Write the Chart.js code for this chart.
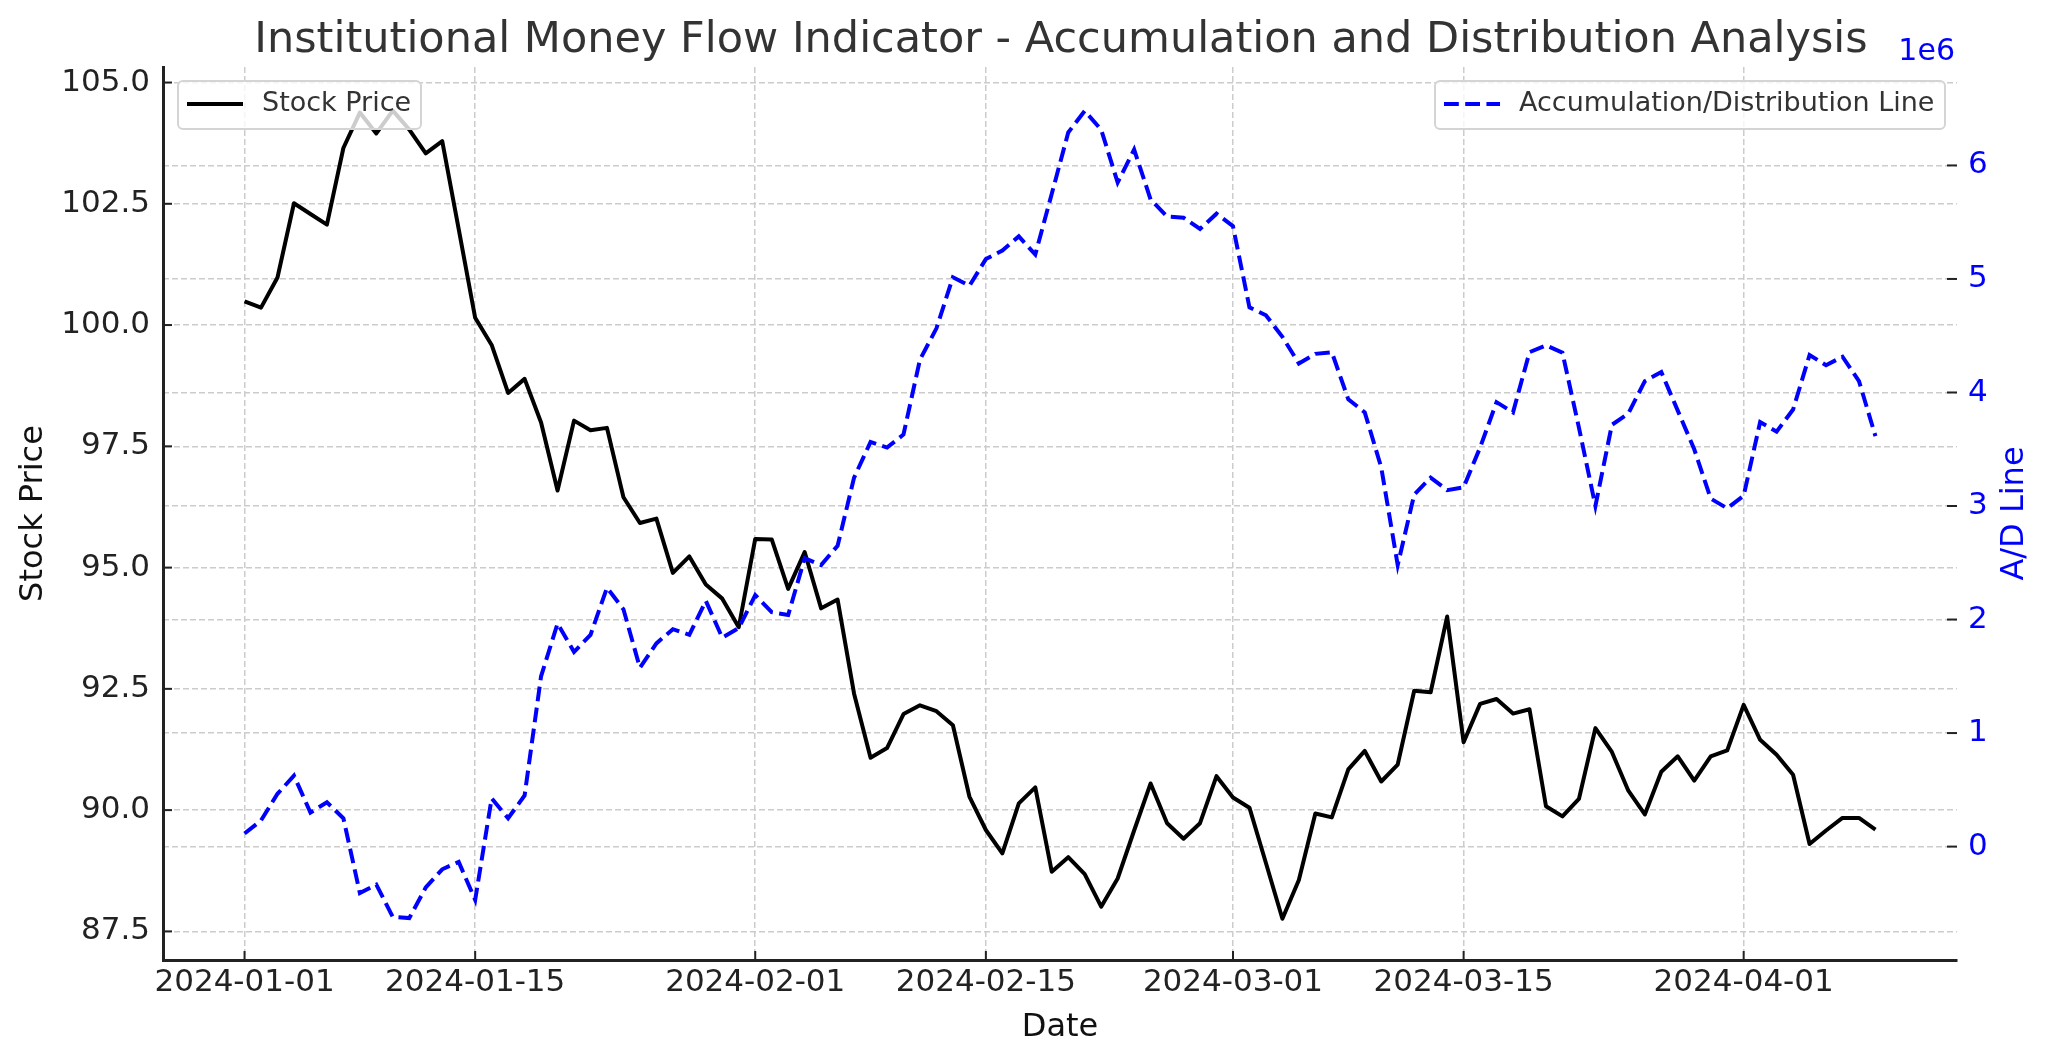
<!DOCTYPE html>
<html>
<head>
<meta charset="utf-8">
<script src="https://cdn.jsdelivr.net/npm/chart.js@4.4.1/dist/chart.umd.min.js"></script>
<style>
  html, body { margin: 0; padding: 0; background: #fff; }
  #wrap { width: 2048px; height: 1062px; }
</style>
</head>
<body>
<div id="wrap"><canvas id="chart" width="2048" height="1062"></canvas></div>
<script>
// daily series, day 0 = 2024-01-01
const startDate = "2024-01-01";
const tickDays = [0, 14, 31, 45, 60, 74, 91];
const tickLabels = ["2024-01-01", "2024-01-15", "2024-02-01", "2024-02-15", "2024-03-01", "2024-03-15", "2024-04-01"];
const adTicks = [0, 1000000, 2000000, 3000000, 4000000, 5000000, 6000000];

const stockPrice = [
  100.49, 100.36, 100.98, 102.51, 102.29, 102.07, 103.65, 104.38, 103.95, 104.42,
  104.03, 103.54, 103.79, 101.98, 100.15, 99.59, 98.60, 98.89, 97.99, 96.59,
  98.03, 97.83, 97.88, 96.45, 95.92, 96.01, 94.89, 95.23, 94.65, 94.36,
  93.77, 95.59, 95.58, 94.56, 95.32, 94.16, 94.34, 92.40, 91.08, 91.28,
  91.98, 92.16, 92.04, 91.75, 90.28, 89.59, 89.11, 90.14, 90.47, 88.73,
  89.03, 88.68, 88.01, 88.59, 89.58, 90.55, 89.73, 89.41, 89.73, 90.70,
  90.26, 90.05, 88.91, 87.76, 88.56, 89.93, 89.85, 90.84, 91.22, 90.59,
  90.94, 92.46, 92.43, 93.99, 91.40, 92.19, 92.29, 91.99, 92.08, 90.08,
  89.87, 90.23, 91.69, 91.20, 90.40, 89.91, 90.79, 91.11, 90.61, 91.11,
  91.23, 92.17, 91.45, 91.14, 90.73, 89.30, 89.58, 89.84, 89.84, 89.60
];

const adLine = [
  115000, 230000, 465000, 625000, 300000, 390000, 250000, -410000, -335000, -620000,
  -630000, -360000, -200000, -135000, -470000, 425000, 250000, 450000, 1500000, 1965000,
  1715000, 1865000, 2280000, 2090000, 1575000, 1790000, 1915000, 1865000, 2165000, 1840000,
  1925000, 2215000, 2065000, 2040000, 2540000, 2480000, 2650000, 3250000, 3565000, 3515000,
  3630000, 4290000, 4565000, 5015000, 4940000, 5175000, 5250000, 5375000, 5215000, 5750000,
  6290000, 6480000, 6315000, 5850000, 6140000, 5700000, 5550000, 5540000, 5440000, 5575000,
  5465000, 4750000, 4680000, 4490000, 4255000, 4340000, 4355000, 3940000, 3825000, 3340000,
  2480000, 3100000, 3250000, 3140000, 3165000, 3515000, 3915000, 3825000, 4355000, 4415000,
  4350000, 3690000, 3000000, 3715000, 3815000, 4100000, 4180000, 3840000, 3500000, 3065000,
  2980000, 3090000, 3740000, 3655000, 3850000, 4330000, 4240000, 4315000, 4100000, 3615000
];

const FONT = "DejaVu Sans";
const BLUE = "#0000ff";
const GRID = "#cccccc";
const GRID_DASH = [6, 3];
const AD_DASH = [14.8, 6.4];

const pricePoints = stockPrice.map((v, i) => ({ x: i, y: v }));
const adPoints = adLine.map((v, i) => ({ x: i, y: v }));

function line(ctx, x1, y1, x2, y2) {
  ctx.beginPath();
  ctx.moveTo(x1, y1);
  ctx.lineTo(x2, y2);
  ctx.stroke();
}

function legendBox(ctx, x, y, w, h, label, color, dash) {
  ctx.save();
  ctx.beginPath();
  ctx.roundRect(x, y, w, h, 5);
  ctx.fillStyle = "rgba(255,255,255,0.8)";
  ctx.fill();
  ctx.strokeStyle = "#d4d4d4";
  ctx.lineWidth = 2;
  ctx.stroke();
  const cy = y + h / 2 - 1;
  ctx.strokeStyle = color;
  ctx.lineWidth = 4;
  ctx.setLineDash(dash);
  line(ctx, x + 9, cy, x + 65, cy);
  ctx.setLineDash([]);
  ctx.fillStyle = "#333";
  ctx.font = `27px "${FONT}"`;
  ctx.textAlign = "left";
  ctx.textBaseline = "middle";
  ctx.fillText(label, x + 84, cy);
  ctx.restore();
}

const overlay = {
  id: "overlay",
  afterDatasetsDraw(chart) {
    const { ctx, chartArea: a, scales } = chart;
    ctx.save();
    // matplotlib style inward ticks
    ctx.strokeStyle = "#222";
    ctx.lineWidth = 2;
    scales.x.ticks.forEach((t) => {
      const px = scales.x.getPixelForValue(t.value);
      line(ctx, px, a.bottom, px, a.bottom - 9);
    });
    scales.y.ticks.forEach((t) => {
      const py = scales.y.getPixelForValue(t.value);
      line(ctx, a.left, py, a.left + 9, py);
    });
    scales.y2.ticks.forEach((t) => {
      const py = scales.y2.getPixelForValue(t.value);
      line(ctx, a.right - 10, py, a.right, py);
    });
    ctx.restore();

    legendBox(ctx, 178, 81, 243, 48, "Stock Price", "#000", []);
    legendBox(ctx, 1435, 81, 510, 48, "Accumulation/Distribution Line", BLUE, AD_DASH);

    ctx.save();
    ctx.fillStyle = "#333";
    ctx.font = `43px "${FONT}"`;
    ctx.textAlign = "center";
    ctx.textBaseline = "alphabetic";
    ctx.fillText("Institutional Money Flow Indicator - Accumulation and Distribution Analysis", 1061, 52);

    ctx.fillStyle = BLUE;
    ctx.font = `30px "${FONT}"`;
    ctx.textAlign = "right";
    ctx.fillText("1e6", a.right - 2, 60);

    ctx.translate(2015, (a.top + a.bottom) / 2);
    ctx.rotate(-Math.PI / 2);
    ctx.font = `32px "${FONT}"`;
    ctx.textAlign = "center";
    ctx.textBaseline = "middle";
    ctx.fillText("A/D Line", 0, 0);
    ctx.restore();
  },
};

new Chart(document.getElementById("chart"), {
  type: "line",
  data: {
    datasets: [
      {
        label: "Accumulation/Distribution Line",
        data: adPoints,
        yAxisID: "y2",
        borderColor: BLUE,
        borderWidth: 4,
        borderDash: AD_DASH,
        pointRadius: 0,
        tension: 0,
        order: 0,
      },
      {
        label: "Stock Price",
        data: pricePoints,
        yAxisID: "y",
        borderColor: "#000",
        borderWidth: 4,
        borderJoinStyle: "round",
        pointRadius: 0,
        tension: 0,
        order: 1,
      },
    ],
  },
  options: {
    responsive: false,
    devicePixelRatio: 1,
    animation: false,
    layout: { padding: { top: 67, left: 0, right: 0, bottom: 0 } },
    plugins: {
      legend: { display: false },
      title: { display: false },
      tooltip: { enabled: false },
    },
    scales: {
      x: {
        type: "linear",
        min: -4.95,
        max: 103.95,
        afterBuildTicks: (scale) => {
          scale.ticks = tickDays.map((v) => ({ value: v }));
        },
        afterFit: (scale) => {
          scale.height = 102;
        },
        ticks: {
          autoSkip: false,
          maxRotation: 0,
          padding: 4,
          color: "#222",
          font: { family: FONT, size: 31 },
          callback: (v) => tickLabels[tickDays.indexOf(v)],
        },
        grid: { color: GRID, lineWidth: 1.5, drawTicks: false },
        border: { display: true, color: "#222", width: 3, dash: GRID_DASH, z: 1 },
        title: {
          display: true,
          text: "Date",
          color: "#111",
          font: { family: FONT, size: 32 },
          padding: { top: 0, bottom: 15 },
        },
      },
      y: {
        position: "left",
        min: 86.91,
        max: 105.32,
        afterFit: (scale) => {
          scale.width = 163;
        },
        ticks: {
          stepSize: 2.5,
          includeBounds: false,
          padding: 13,
          color: "#222",
          font: { family: FONT, size: 31 },
          callback: (v) => v.toFixed(1),
        },
        grid: { color: GRID, lineWidth: 1.5, drawTicks: false },
        border: { display: true, color: "#222", width: 3, dash: GRID_DASH, z: 1 },
        title: {
          display: true,
          text: "Stock Price",
          color: "#111",
          font: { family: FONT, size: 32 },
          padding: { top: 14, bottom: 0 },
        },
      },
      y2: {
        position: "right",
        min: -999000,
        max: 6867000,
        afterBuildTicks: (scale) => {
          scale.ticks = adTicks.map((v) => ({ value: v }));
        },
        afterFit: (scale) => {
          scale.width = 91;
        },
        ticks: {
          padding: 11,
          color: BLUE,
          font: { family: FONT, size: 31 },
          callback: (v) => String(v / 1e6),
        },
        grid: { color: GRID, lineWidth: 1.5, drawTicks: false },
        border: { display: false, dash: GRID_DASH },
      },
    },
  },
  plugins: [overlay],
});
</script>
</body>
</html>
